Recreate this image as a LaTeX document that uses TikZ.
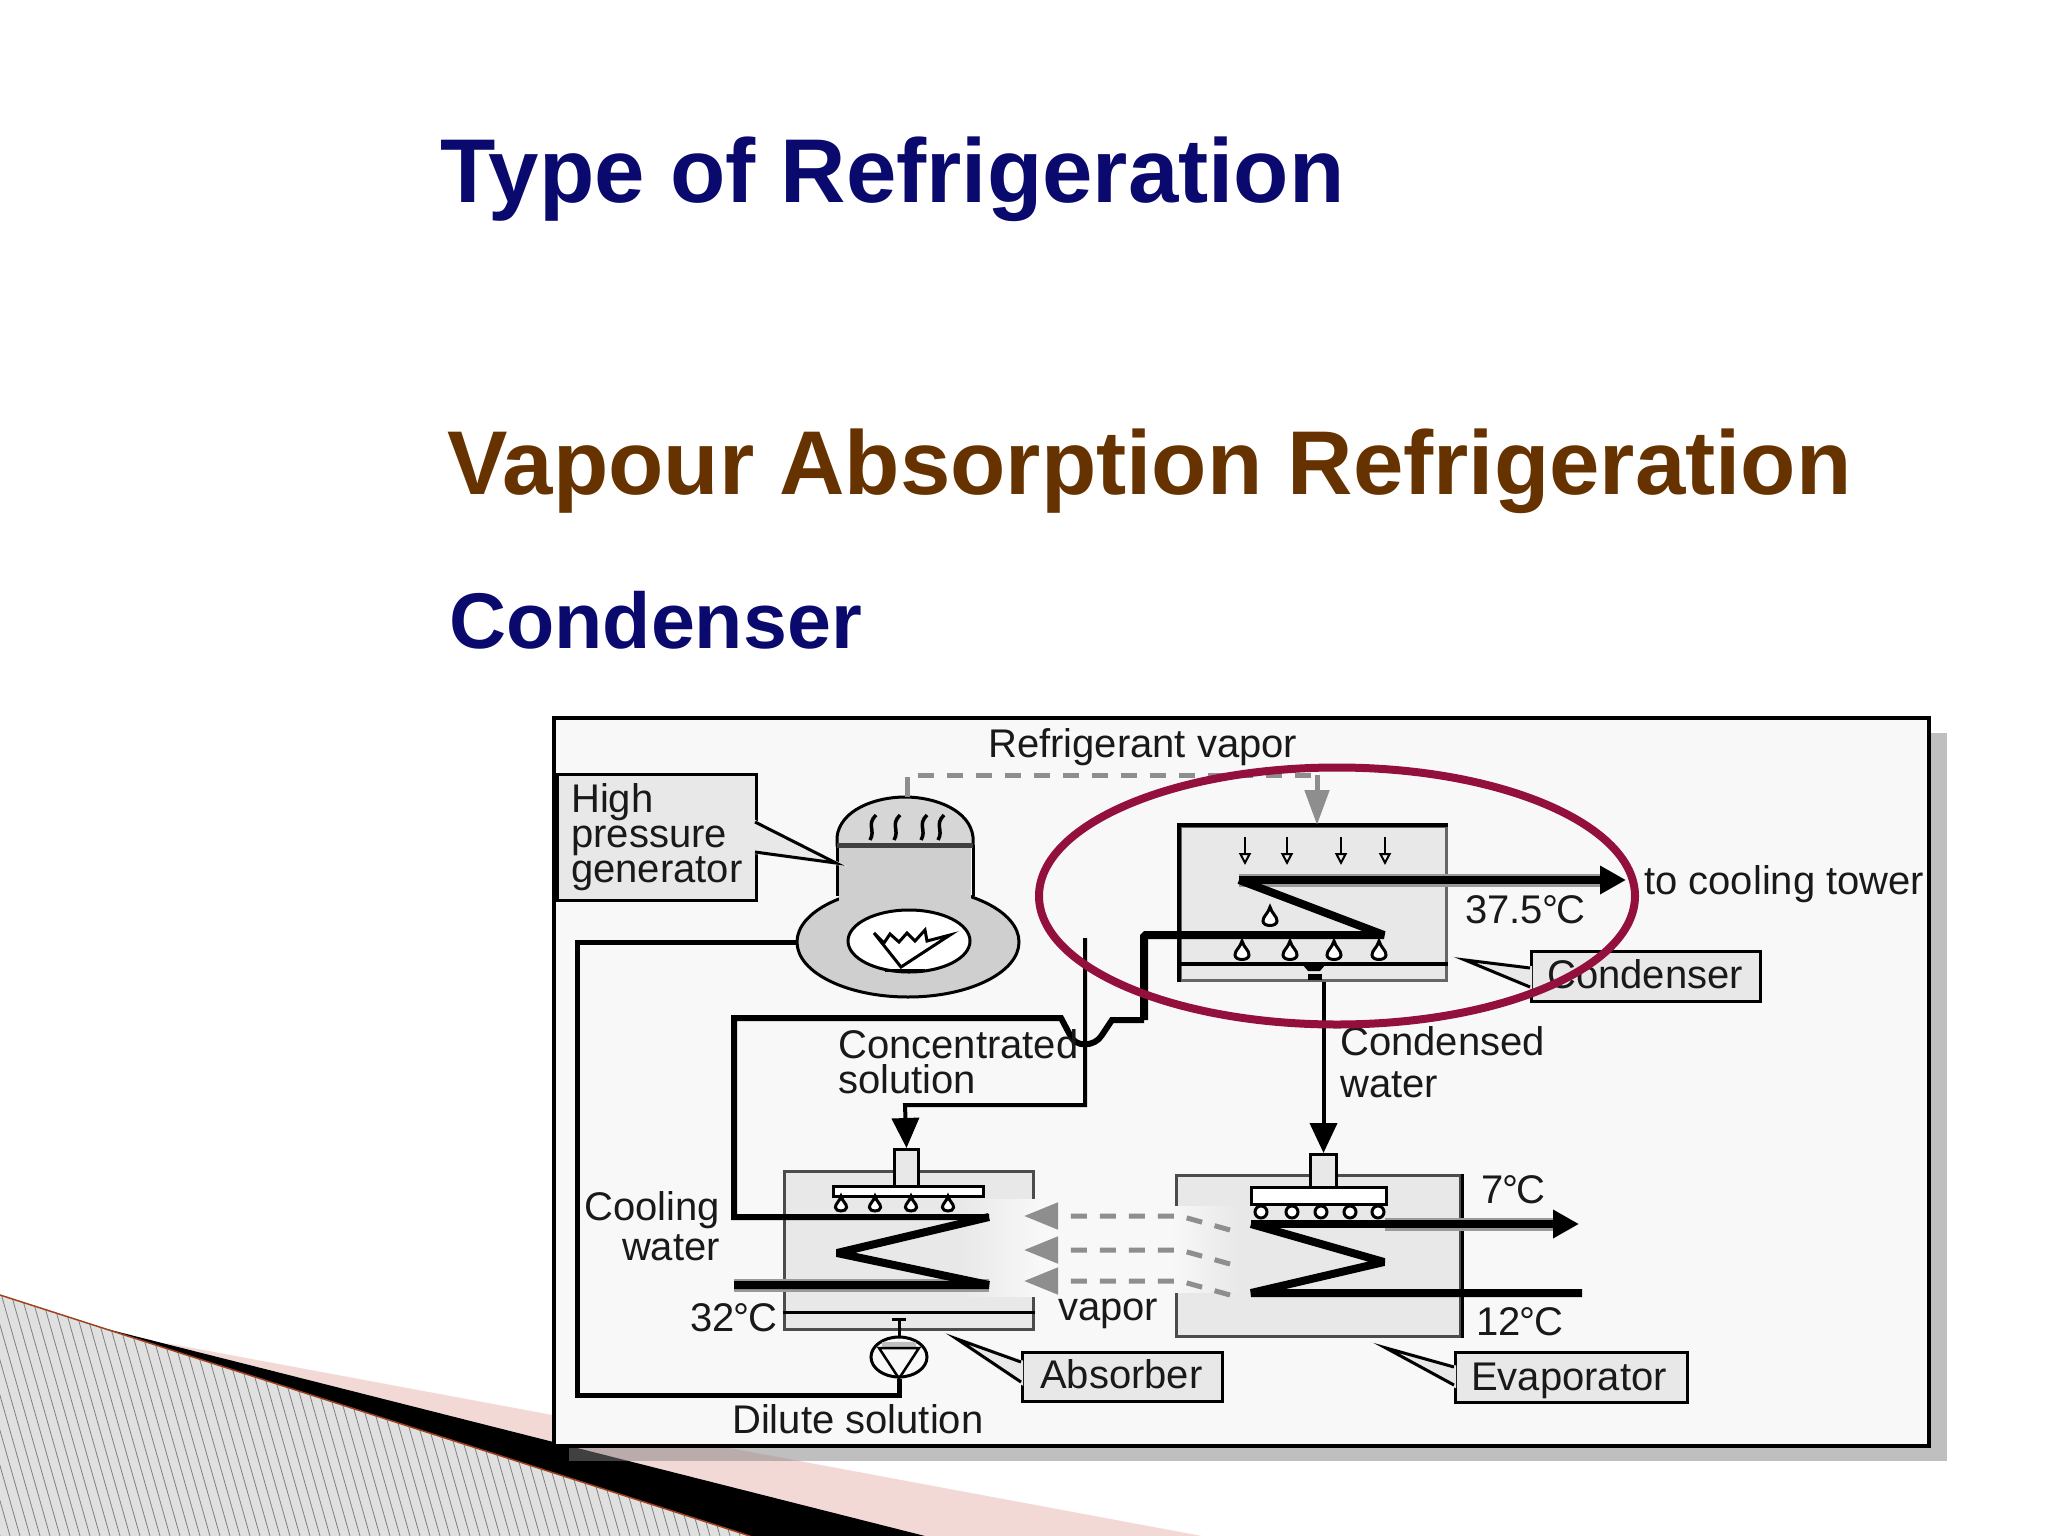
\documentclass[tikz,border=0pt]{standalone}
\usepackage{fontspec}
\setmainfont{Liberation Sans}
\usetikzlibrary{positioning,arrows.meta,shapes.geometric}
\definecolor{titlenavy}{HTML}{0A0A6E}
\definecolor{titlebrown}{HTML}{663300}
\definecolor{ringred}{HTML}{930F3E}
\definecolor{panelgray}{HTML}{F8F8F8}
\definecolor{vesselgray}{HTML}{E8E8E8}
\definecolor{potgray}{HTML}{CFCFCF}
\definecolor{vaporgray}{HTML}{8E8E8E}
\definecolor{wedgepink}{HTML}{F3D9D6}
\definecolor{edgebrown}{HTML}{A0401E}
\tikzset{main title/.style={font=\bfseries\fontsize{90.6}{90}\selectfont,inner sep=0pt,anchor=base west},
  lab/.style={font=\fontsize{40}{35}\selectfont,inner sep=0pt,anchor=base west,align=left,text=black!90},
  vessel/.style={rectangle,draw=black!70,line width=3,fill=vesselgray,inner sep=0pt,anchor=north west},
  callout/.style={rectangle,draw=black,line width=3,fill=vesselgray,inner sep=0pt,anchor=north west,font=\fontsize{40}{35}\selectfont},
  stem/.style={rectangle,draw=black,line width=3,fill=vesselgray,inner sep=0pt,anchor=north west},
  coil/.style={line width=8,black,line join=bevel},
  coilband/.style={line width=13,black!40},
  pipe/.style={line width=5,black,line join=miter},
  feed/.style={pipe,line width=4,-{Triangle[length=30,width=27]}},
  vaporpipe/.style={line width=5,vaporgray},
  flowtip/.style={-{Triangle[length=26,width=27]}},
  drop/.pic={\filldraw[fill=white,draw=black,line width=3] (0,-11) .. controls (2,-4) and (7,-2) .. (7,3) .. controls (7,9) and (-7,9) .. (-7,3) .. controls (-7,-2) and (-2,-4) .. (0,-11) -- cycle;}}
\newcommand{\pointer}[3]{\filldraw[fill=vesselgray,draw=vesselgray,line width=4] (#1) -- (#2) -- (#3) -- cycle;
  \draw[line width=3,black] (#1) -- (#2) -- (#3);}
\newcommand{\degc}{\kern-1pt°\kern-1.5pt C}
\begin{document}
\begin{tikzpicture}[x=1pt,y=-1pt]
  \useasboundingbox (0,0) rectangle (2048,1536);
  % slide corner
  \fill[wedgepink] (166,1343) -- (1202,1536) -- (750,1536) -- cycle;
  \fill[black] (95,1326) -- (925,1536) -- (750,1536) -- cycle;
  \begin{scope}
    \clip (0,1295) -- (750,1536) -- (0,1536) -- cycle;
    \fill[black!12] (0,1290) rectangle (760,1536);
    \foreach \x in {-70,-60,...,760}
      \draw[black!50,line width=0.8] (\x,1290) -- (\x+70,1536);
  \end{scope}
  \draw[edgebrown,line width=1.5] (0,1295) -- (750,1536);
  % titles
  \node[main title,text=titlenavy] (title) at (440,202) {Type of Refrigeration};
  \node[main title,text=titlebrown] (subtitle) at (447,494) {Vapour Absorption Refrigeration};
  \node[main title,text=titlenavy,font=\bfseries\fontsize{79}{79}\selectfont] (part) at (449,648) {Condenser};
  % panel
  \draw[draw=none,fill=black!50,opacity=.5] (569,733) rectangle (1947,1461);
  \node[rectangle,draw=black,line width=3.5,fill=panelgray,inner sep=0pt,minimum width=1375,minimum height=728,anchor=north west] (panel) at (552,716) {};
  % vessels
  \node[vessel,minimum width=266,minimum height=154,draw=black!60] (cond box) at (1179,825) {};
  \draw[line width=3.5,black] (cond box.south west) -- (cond box.north west) -- (cond box.north east);
  \node[vessel,minimum width=249,minimum height=158] (abs box) at (783,1170) {};
  \node[vessel,minimum width=284,minimum height=161] (evap box) at (1175,1174) {};
  \draw[line width=3.5,black] (cond box.west |- 0,964) -- (cond box.east |- 0,964);
  \fill[black] (1302,964) -- (1326,964) -- (1320,971) -- (1308,971) -- cycle;
  \fill[black] (1308,974) rectangle (1322,980);
  \draw[line width=3,black] (abs box.west |- 0,1312) -- (abs box.east |- 0,1312);
  \shade[left color=vesselgray,right color=panelgray,shading angle=90] (960,1199) rectangle (1040,1296);
  \shade[left color=panelgray,right color=vesselgray,shading angle=90] (1170,1206) rectangle (1240,1292);
  \draw[line width=3,black] (evap box.north east) -- (evap box.south east);
  % generator
  \node[ellipse,draw=black,line width=3,fill=potgray,inner sep=0pt,minimum width=222,minimum height=110] (gen pot) at (908,942) {};
  \fill[potgray] (839,845) rectangle (971,905);
  \draw[line width=3,black] (837,845) -- (837,896) (973,845) -- (973,896);
  \filldraw[fill=black!16,draw=black,line width=3] (837,845) -- (837,837) .. controls (840,810) and (875,797) .. (905,797) .. controls (935,797) and (970,810) .. (973,837) -- (973,845) -- cycle;
  \draw[line width=5,black!75] (837,845) -- (973,845);
  \foreach \x in {872,896,923,940}
    \draw[line width=3.5,black] (\x+4,815) .. controls (\x-6,825) and (\x+4,830) .. (\x-2,840);
  \node[ellipse,draw=black,line width=3,fill=white,inner sep=0pt,minimum width=122,minimum height=62] (burner) at (909,941) {};
  \draw[line width=3,black] (874,933) -- (901,967) -- (950,935) -- (927,941) -- (925,930) -- (915,941) -- (907,933) -- (899,942) -- (890,934) -- (884,943) -- cycle;
  \draw[line width=3,black] (885,970) -- (925,970);
  % vapour from generator to condenser
  \coordinate (gen stub) at (907,777);
  \coordinate (dash start) at (918,775);
  \coordinate (dash corner) at (1317,775);
  \draw[vaporpipe] (gen stub) -- (907,797);
  \draw[vaporpipe,dash pattern=on 16 off 13] (dash start) -- (dash corner);
  \draw[vaporpipe,-{Triangle[length=35,width=24]}] (dash corner) -- (dash corner |- cond box.north);
  % condenser inside
  \foreach \x in {1245,1287,1341,1385}
    \draw[line width=2,black,-{Triangle[open,length=12,width=12]}] (\x,837) -- (\x,865);
  \foreach \x in {1242,1290,1334,1379}
    \pic at (\x,952) {drop};
  \pic at (1270,918) {drop};
  \coordinate (cond in) at (1239,880);
  \coordinate (cond turn) at (1384,935);
  \coordinate (trap r) at (1144,1020);
  \coordinate (trap l) at (1112,1020);
  \coordinate (trap e) at (1061,1018);
  \coordinate (abs in) at (989,1217);
  \draw[coilband] (cond in) -- (1600,880);
  \draw[coil,flowtip] (cond in) -- (1626,880);
  \draw[coil] (cond in) -- (cond turn) -| (trap r);
  \draw[pipe,line width=6] (trap r) -- (trap l) -- (1102,1035) .. controls (1095,1047) and (1075,1048) .. (1070,1035) -- (trap e) -| (734,1217) -- (abs in);
  \coordinate (abs turn) at (837,1253);
  \coordinate (abs out) at (989,1285);
  \draw[coilband] (abs out) -- (734,1285);
  \draw[coil] (abs in) -- (abs turn) -- (abs out) -- (734,1285);
  % concentrated solution
  \node[stem,minimum width=24,minimum height=38] (abs stem) at (893,1148) {};
  \node[stem,minimum width=150,minimum height=10,fill=white] (abs bar) at (832,1185) {};
  \coordinate (conc top) at (1085,938);
  \coordinate (conc corner) at (905,1105);
  \draw[feed] (conc top) |- (conc corner) -- (abs stem.north);
  \foreach \x in {841,875,911,948}
    \pic[scale=.8] at (\x,1205) {drop};
  % condensed water
  \node[stem,minimum width=26,minimum height=34] (evap stem) at (1309,1153) {};
  \node[stem,minimum width=135,minimum height=17,fill=white] (evap bar) at (1250,1186) {};
  \draw[feed] (evap stem.north |- cond box.south) -- (evap stem.north);
  \foreach \x in {1261,1292,1321,1350,1378}
    \draw[line width=3,black,fill=white] (\x,1212) circle (6);
  \coordinate (evap in) at (1251,1224);
  \coordinate (evap turn) at (1384,1262);
  \coordinate (evap out) at (1251,1293);
  \draw[coilband] (1385,1224) -- (1556,1224);
  \draw[coil,flowtip] (evap in) -- (1579,1224);
  \draw[coil] (evap in) -- (evap turn) -- (evap out) -- (1582,1293);
  % vapor arrows
  \foreach \y/\z in {1216/1230,1250/1264,1281/1295} {
    \draw[vaporpipe,dash pattern=on 16 off 13] (1230,\z) -- (1180,\y) -- (1050,\y);
    \draw[vaporpipe,-{Triangle[length=34,width=26]}] (1058,\y) -- (1024,\y);
  }
  % pump and dilute solution
  \node[ellipse,draw=black,line width=3,fill=panelgray,inner sep=0pt,minimum width=56,minimum height=40] (pump) at (899,1357) {};
  \fill[black!25] (882,1342) rectangle (916,1348);
  \draw[line width=2.5,black] (879,1348) -- (919,1348) -- (pump.south) -- cycle;
  \draw[line width=3,black] (pump.north) -- (899,1319) (892,1319) -- (906,1319);
  \coordinate (dil corner) at (577,1395);
  \draw[pipe] (pump.south) |- (dil corner) |- (gen pot.west);
  % callouts
  \node[callout,minimum width=199,minimum height=126] (hp box) at (556,773) {};
  \node[callout,minimum width=229,minimum height=50] (cond label) at (1530,950) {};
  \node[callout,minimum width=200,minimum height=49] (abs label) at (1021,1351) {};
  \node[callout,minimum width=232,minimum height=50] (evap label) at (1454,1351) {};
  \coordinate (hp tip) at (836,863);
  \coordinate (cond tip) at (1465,960);
  \coordinate (abs tip) at (957,1339);
  \coordinate (evap tip) at (1386,1348);
  \pointer{755,822}{hp tip}{755,852}
  \pointer{1530,968}{cond tip}{1530,987}
  \pointer{1021,1362}{abs tip}{1021,1382}
  \pointer{1454,1367}{evap tip}{1454,1385}
  % labels
  \node[lab] (hp text) at (571,882) {High\\pressure\\generator};
  \node[lab] (cond text) at (1547,988) {Condenser};
  \node[lab] (abs text) at (1040,1388) {Absorber};
  \node[lab] (evap text) at (1471,1390) {Evaporator};
  \node[lab] (ref text) at (988,757) {Refrigerant vapor};
  \node[lab] (tower text) at (1644,894) {to cooling tower};
  \node[lab] (hot text) at (1465,923) {37.5\degc};
  \node[lab] (conc text) at (838,1093) {Concentrated\\solution};
  \node[lab,font=\fontsize{40}{42}\selectfont] (water text) at (1340,1097) {Condensed\\water};
  \node[lab,font=\fontsize{40}{40}\selectfont,align=right] (cool text) at (584,1260) {Cooling\\water};
  \node[lab] (tw text) at (690,1331) {32\degc};
  \node[lab] (vap text) at (1058,1320) {vapor};
  \node[lab] (dil text) at (732,1433) {Dilute solution};
  \node[lab] (cold text) at (1481,1203) {7\degc};
  \node[lab] (warm text) at (1476,1335) {12\degc};
  % ring
  \node[ellipse,draw=ringred,line width=8,inner sep=0pt,minimum width=596,minimum height=257] (ring) at (1337,896) {};
\end{tikzpicture}
\end{document}
